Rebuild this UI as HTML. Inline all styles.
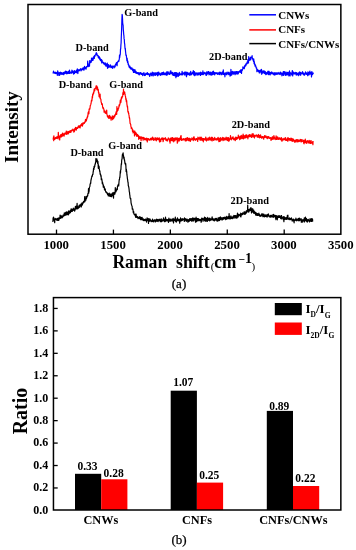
<!DOCTYPE html>
<html><head><meta charset="utf-8"><title>Raman spectra and intensity ratios</title><style>
html,body{margin:0;padding:0;background:#fff;width:356px;height:550px;overflow:hidden}
svg{display:block}
text{font-family:"Liberation Serif","Times New Roman",serif;font-weight:bold;fill:#000}
.n{font-weight:normal}
</style></head><body>
<svg width="356" height="550" viewBox="0 0 356 550">
<g fill="none" stroke-linejoin="round" stroke-width="1.2">
<polyline points="52.9,72.5 53.1,73.0 53.3,72.6 53.5,71.2 53.7,72.8 53.9,72.9 54.1,72.1 54.3,73.2 54.5,73.0 54.7,73.0 54.9,72.8 55.1,73.4 55.3,72.2 55.5,72.8 55.7,72.6 55.9,73.6 56.1,73.1 56.3,72.9 56.5,72.5 56.7,73.0 56.9,73.3 57.1,73.0 57.3,75.3 57.5,74.3 57.7,70.9 57.9,71.7 58.1,73.3 58.3,73.1 58.5,73.7 58.7,73.7 58.9,75.4 59.1,72.5 59.3,73.2 59.5,75.4 59.7,75.2 59.9,74.2 60.1,73.1 60.3,72.1 60.5,73.8 60.7,73.7 60.9,72.5 61.1,73.0 61.3,74.4 61.5,72.7 61.7,73.5 61.9,73.6 62.1,73.6 62.3,73.1 62.5,74.0 62.7,74.3 62.9,73.7 63.1,72.7 63.3,74.0 63.5,72.9 63.7,74.6 63.9,72.3 64.1,74.1 64.3,73.2 64.5,72.1 64.7,72.9 64.9,73.2 65.1,73.4 65.3,72.2 65.5,71.2 65.7,73.2 65.9,72.6 66.1,73.2 66.3,73.6 66.5,71.4 66.7,73.1 66.9,73.9 67.1,72.5 67.3,72.0 67.5,73.4 67.7,72.9 67.9,73.5 68.1,72.3 68.3,71.3 68.5,72.5 68.7,72.2 68.9,73.3 69.1,72.7 69.3,71.0 69.5,70.0 69.7,73.3 69.9,73.1 70.1,71.8 70.3,72.4 70.5,72.8 70.7,72.8 70.9,73.1 71.1,72.5 71.3,72.2 71.5,72.0 71.7,73.2 71.9,70.2 72.1,72.1 72.3,72.2 72.5,70.9 72.7,72.4 72.9,71.5 73.1,72.8 73.3,71.9 73.5,72.6 73.7,74.2 73.9,72.3 74.1,71.1 74.3,70.5 74.5,73.4 74.7,71.7 74.9,71.1 75.1,71.8 75.3,71.5 75.5,72.4 75.7,71.6 75.9,72.2 76.1,70.8 76.3,72.6 76.5,70.4 76.7,71.9 76.9,72.6 77.1,69.7 77.3,68.8 77.5,71.5 77.7,73.2 77.9,73.5 78.1,69.6 78.3,71.2 78.5,69.8 78.7,70.1 78.9,70.1 79.1,70.8 79.3,69.9 79.5,70.5 79.7,70.0 79.9,69.3 80.1,69.7 80.3,69.0 80.5,69.8 80.7,68.7 80.9,68.7 81.1,70.9 81.3,69.5 81.5,69.4 81.7,69.9 81.9,69.0 82.1,69.1 82.3,69.6 82.5,69.4 82.7,68.0 82.9,69.7 83.1,68.4 83.3,67.9 83.5,68.0 83.7,68.3 83.9,70.1 84.1,67.5 84.3,68.6 84.5,66.4 84.7,68.3 84.9,69.0 85.1,67.8 85.3,67.4 85.5,68.0 85.7,68.4 85.9,68.2 86.1,69.2 86.3,67.5 86.5,66.6 86.7,66.9 86.9,66.7 87.1,66.7 87.3,66.4 87.5,66.5 87.7,61.1 87.9,66.4 88.1,64.9 88.3,66.7 88.5,65.5 88.7,65.9 88.9,64.9 89.1,65.1 89.3,63.0 89.5,66.2 89.7,60.6 89.9,62.0 90.1,62.1 90.3,62.6 90.5,60.8 90.7,62.7 90.9,61.2 91.1,62.4 91.3,61.8 91.5,58.2 91.7,60.4 91.9,58.6 92.1,60.7 92.3,59.6 92.5,59.7 92.7,58.0 92.9,60.3 93.1,60.2 93.3,57.2 93.5,58.2 93.7,57.0 93.9,57.3 94.1,56.0 94.3,58.5 94.5,55.7 94.7,56.1 94.9,56.5 95.1,55.1 95.3,55.2 95.5,54.6 95.7,54.7 95.9,53.5 96.1,54.0 96.3,52.7 96.5,54.0 96.7,54.5 96.9,53.6 97.1,55.6 97.3,54.9 97.5,55.5 97.7,55.4 97.9,55.9 98.1,55.6 98.3,57.5 98.5,56.3 98.7,56.9 98.9,58.2 99.1,58.5 99.3,58.0 99.5,56.8 99.7,59.3 99.9,59.4 100.1,58.1 100.3,60.3 100.5,59.3 100.7,59.1 100.9,60.4 101.1,61.2 101.3,61.0 101.5,59.6 101.7,62.9 101.9,60.9 102.1,60.3 102.3,62.5 102.5,61.8 102.7,62.6 102.9,62.2 103.1,62.7 103.3,63.1 103.5,62.4 103.7,63.9 103.9,63.0 104.1,62.8 104.3,63.8 104.5,64.3 104.7,63.8 104.9,63.3 105.1,64.8 105.3,62.8 105.5,63.5 105.7,65.8 105.9,63.5 106.1,66.3 106.3,65.3 106.5,65.8 106.7,64.3 106.9,64.6 107.1,65.6 107.3,63.2 107.5,68.3 107.7,65.0 107.9,65.1 108.1,67.7 108.3,66.0 108.5,64.5 108.7,66.8 108.9,67.1 109.1,66.0 109.3,66.3 109.5,67.0 109.7,65.8 109.9,67.1 110.1,66.9 110.3,64.8 110.5,65.4 110.7,66.4 110.9,65.9 111.1,67.6 111.3,66.8 111.5,67.4 111.7,66.8 111.9,66.9 112.1,66.0 112.3,67.3 112.5,68.3 112.7,66.4 112.9,66.2 113.1,66.6 113.3,66.3 113.5,66.1 113.7,66.8 113.9,66.4 114.1,67.9 114.3,66.4 114.5,66.6 114.7,67.0 114.9,65.6 115.1,67.0 115.3,64.9 115.5,64.5 115.7,64.6 115.9,64.6 116.1,63.2 116.3,64.2 116.5,62.5 116.7,65.0 116.9,63.5 117.1,65.6 117.3,62.2 117.5,62.4 117.7,62.3 117.9,61.3 118.1,61.1 118.3,61.4 118.5,60.7 118.7,61.5 118.9,61.2 119.1,59.6 119.3,59.2 119.5,55.2 119.7,57.5 119.9,55.8 120.1,54.9 120.3,54.3 120.5,48.9 120.7,48.9 120.9,45.0 121.1,43.0 121.3,36.7 121.5,32.2 121.7,26.8 121.9,19.1 122.1,14.4 122.3,15.0 122.5,18.4 122.7,22.8 122.9,24.3 123.1,25.1 123.3,29.6 123.5,31.5 123.7,34.3 123.9,35.6 124.1,38.9 124.3,39.3 124.5,43.3 124.7,43.9 124.9,46.9 125.1,48.9 125.3,48.4 125.5,51.1 125.7,52.7 125.9,55.0 126.1,55.7 126.3,55.0 126.5,57.4 126.7,58.5 126.9,60.6 127.1,58.0 127.3,59.9 127.5,62.4 127.7,60.8 127.9,61.7 128.1,63.9 128.3,64.9 128.5,63.9 128.7,65.4 128.9,66.0 129.1,67.1 129.3,66.1 129.5,67.3 129.7,65.9 129.9,66.9 130.1,67.2 130.3,68.6 130.5,68.2 130.7,67.4 130.9,68.9 131.1,69.2 131.3,68.6 131.5,68.7 131.7,69.0 131.9,67.8 132.1,69.4 132.3,69.9 132.5,69.1 132.7,70.7 132.9,69.0 133.1,69.9 133.3,70.1 133.5,72.5 133.7,69.4 133.9,71.5 134.1,71.9 134.3,71.6 134.5,72.4 134.7,70.6 134.9,69.6 135.1,72.4 135.3,70.8 135.5,71.7 135.7,71.0 135.9,73.2 136.1,73.1 136.3,71.8 136.5,73.3 136.7,72.7 136.9,72.6 137.1,72.9 137.3,72.7 137.5,73.5 137.7,73.3 137.9,72.8 138.1,74.0 138.3,72.6 138.5,73.5 138.7,73.6 138.9,74.6 139.1,72.8 139.3,74.9 139.5,73.5 139.7,73.2 139.9,72.8 140.1,73.9 140.3,73.5 140.5,72.5 140.7,72.5 140.9,73.0 141.1,72.9 141.3,74.5 141.5,74.1 141.7,74.4 141.9,74.0 142.1,73.3 142.3,73.7 142.5,74.5 142.7,75.6 142.9,74.6 143.1,73.5 143.3,73.8 143.5,73.4 143.7,73.1 143.9,72.6 144.1,74.0 144.3,75.5 144.5,73.9 144.7,75.1 144.9,75.5 145.1,74.0 145.3,75.4 145.5,74.6 145.7,73.6 145.9,74.2 146.1,73.1 146.3,73.8 146.5,73.8 146.7,74.1 146.9,74.4 147.1,73.2 147.3,74.0 147.5,72.7 147.7,74.3 147.9,74.6 148.1,74.2 148.3,74.3 148.5,74.6 148.7,73.5 148.9,73.9 149.1,74.5 149.3,75.0 149.5,74.5 149.7,76.4 149.9,74.0 150.1,75.0 150.3,75.2 150.5,74.0 150.7,73.4 150.9,73.0 151.1,74.2 151.3,75.1 151.5,74.3 151.7,75.6 151.9,73.7 152.1,74.6 152.3,72.2 152.5,74.3 152.7,74.1 152.9,72.8 153.1,76.0 153.3,72.8 153.5,73.1 153.7,73.0 153.9,75.0 154.1,73.2 154.3,74.6 154.5,74.5 154.7,75.2 154.9,72.8 155.1,73.4 155.3,75.5 155.5,72.8 155.7,73.2 155.9,73.8 156.1,74.7 156.3,74.2 156.5,74.6 156.7,72.9 156.9,74.7 157.1,74.4 157.3,72.4 157.5,75.3 157.7,75.9 157.9,73.2 158.1,73.9 158.3,75.1 158.5,72.5 158.7,72.0 158.9,72.6 159.1,73.3 159.3,73.3 159.5,74.3 159.7,74.0 159.9,73.4 160.1,74.2 160.3,75.4 160.5,74.8 160.7,74.6 160.9,75.0 161.1,74.6 161.3,72.8 161.5,74.3 161.7,73.6 161.9,74.7 162.1,74.1 162.3,72.6 162.5,73.7 162.7,74.7 162.9,72.6 163.1,73.1 163.3,72.9 163.5,72.2 163.7,74.4 163.9,74.7 164.1,74.3 164.3,73.8 164.5,73.5 164.7,73.8 164.9,72.9 165.1,74.6 165.3,74.5 165.5,74.4 165.7,73.0 165.9,73.6 166.1,73.4 166.3,75.1 166.5,73.7 166.7,71.8 166.9,73.9 167.1,75.2 167.3,74.1 167.5,74.3 167.7,73.8 167.9,71.7 168.1,71.9 168.3,72.4 168.5,73.4 168.7,73.8 168.9,74.1 169.1,73.2 169.3,74.4 169.5,73.3 169.7,72.9 169.9,74.3 170.1,72.7 170.3,71.1 170.5,72.6 170.7,73.7 170.9,70.8 171.1,73.3 171.3,73.3 171.5,72.3 171.7,72.3 171.9,73.2 172.1,73.2 172.3,74.8 172.5,74.0 172.7,72.3 172.9,72.9 173.1,74.4 173.3,75.4 173.5,74.1 173.7,74.0 173.9,75.4 174.1,73.8 174.3,73.5 174.5,72.5 174.7,73.4 174.9,75.8 175.1,72.6 175.3,73.9 175.5,72.6 175.7,74.0 175.9,77.7 176.1,73.7 176.3,74.6 176.5,72.7 176.7,74.3 176.9,76.5 177.1,74.6 177.3,73.7 177.5,73.3 177.7,73.2 177.9,74.4 178.1,73.7 178.3,76.4 178.5,75.6 178.7,73.8 178.9,73.7 179.1,75.5 179.3,72.3 179.5,73.6 179.7,74.9 179.9,73.2 180.1,73.6 180.3,73.7 180.5,74.6 180.7,74.1 180.9,74.4 181.1,74.5 181.3,74.0 181.5,75.0 181.7,73.3 181.9,72.7 182.1,71.3 182.3,72.5 182.5,73.5 182.7,74.9 182.9,74.1 183.1,73.4 183.3,73.0 183.5,73.5 183.7,73.6 183.9,73.5 184.1,72.7 184.3,73.6 184.5,74.9 184.7,72.0 184.9,73.8 185.1,72.1 185.3,74.1 185.5,73.3 185.7,72.1 185.9,74.1 186.1,75.6 186.3,74.1 186.5,76.7 186.7,73.9 186.9,72.0 187.1,74.4 187.3,73.6 187.5,72.6 187.7,74.6 187.9,74.2 188.1,73.5 188.3,74.7 188.5,73.1 188.7,74.5 188.9,73.1 189.1,74.4 189.3,72.9 189.5,75.2 189.7,74.1 189.9,75.2 190.1,73.2 190.3,73.5 190.5,74.9 190.7,71.4 190.9,72.9 191.1,74.8 191.3,74.3 191.5,74.7 191.7,73.6 191.9,74.4 192.1,73.2 192.3,72.6 192.5,72.3 192.7,73.3 192.9,73.3 193.1,73.3 193.3,70.6 193.5,72.0 193.7,75.0 193.9,74.1 194.1,73.3 194.3,73.0 194.5,71.7 194.7,75.6 194.9,72.8 195.1,75.3 195.3,75.2 195.5,73.3 195.7,73.3 195.9,73.9 196.1,72.7 196.3,74.0 196.5,73.8 196.7,74.2 196.9,74.6 197.1,75.3 197.3,73.4 197.5,74.7 197.7,73.0 197.9,72.9 198.1,73.2 198.3,72.8 198.5,74.6 198.7,74.5 198.9,74.9 199.1,73.7 199.3,73.9 199.5,73.2 199.7,72.7 199.9,74.1 200.1,73.9 200.3,72.7 200.5,75.5 200.7,72.1 200.9,73.5 201.1,73.1 201.3,73.2 201.5,72.7 201.7,74.5 201.9,74.1 202.1,74.7 202.3,73.7 202.5,72.5 202.7,74.3 202.9,70.9 203.1,74.0 203.3,74.7 203.5,73.9 203.7,73.1 203.9,73.3 204.1,73.8 204.3,72.3 204.5,73.7 204.7,73.7 204.9,73.1 205.1,73.2 205.3,73.7 205.5,72.8 205.7,72.8 205.9,75.1 206.1,73.7 206.3,75.0 206.5,75.3 206.7,71.9 206.9,74.4 207.1,74.4 207.3,72.9 207.5,72.0 207.7,73.5 207.9,71.9 208.1,73.2 208.3,71.5 208.5,73.6 208.7,71.6 208.9,73.3 209.1,74.8 209.3,73.2 209.5,74.2 209.7,72.9 209.9,72.7 210.1,72.1 210.3,74.4 210.5,73.4 210.7,74.9 210.9,72.4 211.1,73.2 211.3,73.5 211.5,74.7 211.7,75.1 211.9,72.9 212.1,72.4 212.3,71.9 212.5,74.6 212.7,73.4 212.9,72.8 213.1,73.4 213.3,71.1 213.5,71.9 213.7,74.3 213.9,73.8 214.1,73.6 214.3,72.5 214.5,73.9 214.7,75.0 214.9,72.3 215.1,73.4 215.3,73.0 215.5,73.7 215.7,73.4 215.9,73.3 216.1,72.6 216.3,73.4 216.5,72.8 216.7,73.3 216.9,73.3 217.1,74.0 217.3,72.9 217.5,73.1 217.7,74.4 217.9,73.2 218.1,73.2 218.3,74.2 218.5,73.6 218.7,73.5 218.9,73.6 219.1,72.3 219.3,73.8 219.5,74.6 219.7,73.9 219.9,72.0 220.1,73.6 220.3,72.6 220.5,73.2 220.7,73.5 220.9,72.3 221.1,74.6 221.3,73.3 221.5,74.1 221.7,74.0 221.9,74.6 222.1,74.5 222.3,72.1 222.5,73.4 222.7,71.5 222.9,73.0 223.1,74.0 223.3,69.8 223.5,74.5 223.7,73.6 223.9,73.7 224.1,73.5 224.3,74.5 224.5,74.8 224.7,73.0 224.9,76.8 225.1,73.4 225.3,73.0 225.5,73.9 225.7,74.0 225.9,73.9 226.1,72.8 226.3,74.7 226.5,73.4 226.7,74.7 226.9,74.6 227.1,72.0 227.3,72.5 227.5,72.8 227.7,73.6 227.9,73.4 228.1,73.6 228.3,72.6 228.5,73.7 228.7,74.6 228.9,72.1 229.1,73.2 229.3,73.6 229.5,73.2 229.7,73.1 229.9,74.9 230.1,76.2 230.3,74.1 230.5,72.6 230.7,75.3 230.9,69.4 231.1,72.8 231.3,73.0 231.5,72.9 231.7,75.2 231.9,73.6 232.1,73.3 232.3,71.3 232.5,73.9 232.7,72.3 232.9,72.2 233.1,73.8 233.3,72.5 233.5,74.0 233.7,74.2 233.9,71.6 234.1,73.0 234.3,73.3 234.5,73.1 234.7,72.6 234.9,71.9 235.1,74.7 235.3,72.7 235.5,71.9 235.7,72.9 235.9,73.6 236.1,71.7 236.3,72.9 236.5,71.6 236.7,73.9 236.9,72.9 237.1,72.3 237.3,73.6 237.5,71.5 237.7,72.2 237.9,74.2 238.1,72.4 238.3,73.6 238.5,72.5 238.7,71.7 238.9,72.0 239.1,72.3 239.3,71.8 239.5,71.3 239.7,71.3 239.9,70.6 240.1,72.0 240.3,72.1 240.5,72.3 240.7,69.9 240.9,72.0 241.1,71.1 241.3,69.6 241.5,73.4 241.7,71.1 241.9,70.5 242.1,70.4 242.3,70.3 242.5,70.0 242.7,68.9 242.9,66.8 243.1,67.7 243.3,68.5 243.5,67.5 243.7,68.3 243.9,68.1 244.1,67.2 244.3,68.6 244.5,65.8 244.7,67.2 244.9,65.7 245.1,65.2 245.3,66.2 245.5,64.8 245.7,65.9 245.9,63.8 246.1,65.2 246.3,63.6 246.5,63.9 246.7,63.5 246.9,62.5 247.1,63.8 247.3,61.8 247.5,61.7 247.7,63.1 247.9,59.7 248.1,62.2 248.3,61.6 248.5,62.9 248.7,56.5 248.9,59.5 249.1,59.0 249.3,60.4 249.5,59.6 249.7,60.1 249.9,59.7 250.1,58.4 250.3,57.6 250.5,57.2 250.7,59.9 250.9,58.6 251.1,58.1 251.3,57.2 251.5,57.3 251.7,57.2 251.9,57.4 252.1,55.7 252.3,58.1 252.5,58.2 252.7,59.2 252.9,59.5 253.1,60.5 253.3,60.2 253.5,61.4 253.7,58.8 253.9,60.6 254.1,63.7 254.3,61.7 254.5,63.2 254.7,64.8 254.9,64.1 255.1,66.2 255.3,65.0 255.5,65.1 255.7,66.1 255.9,66.2 256.1,68.0 256.3,68.1 256.5,68.3 256.7,68.0 256.9,71.6 257.1,69.4 257.3,69.7 257.5,70.4 257.7,70.0 257.9,69.8 258.1,70.6 258.3,71.5 258.5,71.3 258.7,71.8 258.9,70.5 259.1,70.4 259.3,73.0 259.5,71.1 259.7,71.8 259.9,72.1 260.1,72.8 260.3,70.4 260.5,71.3 260.7,71.4 260.9,71.6 261.1,69.7 261.3,71.8 261.5,69.4 261.7,74.3 261.9,72.6 262.1,72.7 262.3,71.1 262.5,73.1 262.7,71.5 262.9,71.2 263.1,71.5 263.3,71.7 263.5,72.6 263.7,72.7 263.9,70.7 264.1,72.1 264.3,73.5 264.5,72.9 264.7,73.2 264.9,71.4 265.1,73.7 265.3,71.5 265.5,73.1 265.7,74.2 265.9,74.7 266.1,73.5 266.3,73.8 266.5,72.5 266.7,72.7 266.9,74.2 267.1,73.1 267.3,73.0 267.5,71.9 267.7,73.3 267.9,73.8 268.1,71.0 268.3,72.9 268.5,74.6 268.7,73.4 268.9,73.0 269.1,71.4 269.3,72.7 269.5,73.0 269.7,74.5 269.9,72.7 270.1,74.9 270.3,72.4 270.5,72.9 270.7,74.0 270.9,73.1 271.1,72.5 271.3,73.2 271.5,73.7 271.7,71.8 271.9,73.1 272.1,72.4 272.3,73.0 272.5,74.0 272.7,72.8 272.9,73.0 273.1,73.4 273.3,74.0 273.5,73.1 273.7,74.7 273.9,74.3 274.1,74.5 274.3,72.6 274.5,73.2 274.7,73.7 274.9,75.2 275.1,74.2 275.3,73.0 275.5,74.5 275.7,73.2 275.9,72.7 276.1,73.8 276.3,73.5 276.5,74.3 276.7,72.9 276.9,73.7 277.1,74.0 277.3,73.7 277.5,73.4 277.7,72.8 277.9,74.2 278.1,73.5 278.3,73.9 278.5,73.1 278.7,73.4 278.9,72.4 279.1,73.5 279.3,74.1 279.5,73.5 279.7,74.2 279.9,73.7 280.1,74.7 280.3,73.3 280.5,72.0 280.7,73.8 280.9,73.3 281.1,72.6 281.3,74.0 281.5,73.7 281.7,73.9 281.9,75.8 282.1,73.6 282.3,73.7 282.5,75.1 282.7,72.9 282.9,73.5 283.1,73.8 283.3,71.6 283.5,72.0 283.7,75.4 283.9,71.9 284.1,74.0 284.3,72.7 284.5,72.8 284.7,71.7 284.9,72.7 285.1,74.2 285.3,72.2 285.5,75.1 285.7,73.8 285.9,75.3 286.1,73.1 286.3,75.0 286.5,74.3 286.7,73.2 286.9,72.0 287.1,74.9 287.3,72.3 287.5,73.1 287.7,74.3 287.9,74.5 288.1,72.7 288.3,73.5 288.5,73.3 288.7,74.6 288.9,75.8 289.1,71.9 289.3,74.3 289.5,70.9 289.7,73.5 289.9,72.5 290.1,76.0 290.3,73.6 290.5,72.8 290.7,73.1 290.9,73.0 291.1,73.7 291.3,73.4 291.5,73.2 291.7,74.9 291.9,74.1 292.1,72.4 292.3,70.6 292.5,70.9 292.7,76.0 292.9,73.2 293.1,72.9 293.3,73.6 293.5,72.2 293.7,72.5 293.9,74.0 294.1,73.2 294.3,73.1 294.5,73.8 294.7,73.0 294.9,72.9 295.1,73.1 295.3,74.0 295.5,73.5 295.7,72.4 295.9,73.2 296.1,74.1 296.3,75.2 296.5,72.5 296.7,73.8 296.9,73.2 297.1,74.2 297.3,73.9 297.5,74.8 297.7,73.9 297.9,73.0 298.1,73.0 298.3,73.8 298.5,73.8 298.7,75.6 298.9,75.0 299.1,72.4 299.3,73.8 299.5,72.3 299.7,72.0 299.9,74.1 300.1,73.9 300.3,72.5 300.5,74.9 300.7,75.3 300.9,72.4 301.1,74.0 301.3,73.6 301.5,73.3 301.7,73.4 301.9,73.6 302.1,73.3 302.3,73.3 302.5,71.7 302.7,72.2 302.9,74.0 303.1,72.8 303.3,73.9 303.5,74.5 303.7,73.1 303.9,73.7 304.1,75.3 304.3,74.0 304.5,75.0 304.7,74.8 304.9,74.1 305.1,73.3 305.3,72.6 305.5,71.8 305.7,73.8 305.9,73.8 306.1,73.2 306.3,74.1 306.5,72.8 306.7,74.4 306.9,73.4 307.1,73.3 307.3,73.3 307.5,73.2 307.7,75.6 307.9,71.9 308.1,73.5 308.3,74.4 308.5,74.0 308.7,73.0 308.9,74.9 309.1,72.3 309.3,72.1 309.5,73.8 309.7,72.0 309.9,71.1 310.1,74.1 310.3,74.0 310.5,73.9 310.7,72.8 310.9,73.4 311.1,72.4 311.3,73.5 311.5,77.0 311.7,73.9 311.9,71.5 312.1,74.0 312.3,74.6 312.5,74.3 312.7,73.9 312.9,73.2 313.1,72.9 313.3,73.7 313.5,73.5" stroke="#0000ff"/>
<polyline points="52.9,139.5 53.1,138.8 53.3,138.8 53.5,136.9 53.7,140.6 53.9,135.9 54.1,138.5 54.3,139.4 54.5,138.9 54.7,138.4 54.9,139.4 55.1,138.1 55.3,138.0 55.5,137.5 55.7,138.5 55.9,138.0 56.1,137.4 56.3,137.3 56.5,137.9 56.7,136.9 56.9,138.4 57.1,137.7 57.3,137.7 57.5,137.7 57.7,136.3 57.9,137.9 58.1,138.9 58.3,132.3 58.5,135.3 58.7,135.4 58.9,137.4 59.1,136.7 59.3,137.4 59.5,137.0 59.7,140.0 59.9,136.4 60.1,135.9 60.3,136.7 60.5,134.8 60.7,135.4 60.9,135.9 61.1,137.2 61.3,134.7 61.5,134.4 61.7,134.7 61.9,136.5 62.1,134.8 62.3,136.1 62.5,133.1 62.7,135.7 62.9,135.6 63.1,133.3 63.3,134.6 63.5,135.4 63.7,134.3 63.9,135.1 64.1,136.2 64.3,134.2 64.5,133.7 64.7,133.1 64.9,134.3 65.1,133.5 65.3,133.4 65.5,133.4 65.7,134.0 65.9,132.4 66.1,131.9 66.3,131.0 66.5,134.2 66.7,133.1 66.9,134.3 67.1,132.8 67.3,132.1 67.5,133.1 67.7,132.5 67.9,131.4 68.1,131.6 68.3,133.9 68.5,132.6 68.7,132.5 68.9,131.8 69.1,131.4 69.3,132.7 69.5,131.7 69.7,131.1 69.9,131.5 70.1,130.8 70.3,131.7 70.5,132.4 70.7,130.6 70.9,132.5 71.1,130.6 71.3,131.2 71.5,130.2 71.7,130.7 71.9,130.9 72.1,130.3 72.3,130.0 72.5,129.9 72.7,129.7 72.9,129.0 73.1,130.0 73.3,130.5 73.5,130.9 73.7,130.6 73.9,132.1 74.1,130.1 74.3,129.3 74.5,131.3 74.7,128.6 74.9,130.3 75.1,128.4 75.3,129.5 75.5,127.3 75.7,129.4 75.9,128.5 76.1,127.9 76.3,130.1 76.5,129.2 76.7,128.4 76.9,127.6 77.1,128.1 77.3,128.4 77.5,128.5 77.7,128.5 77.9,127.0 78.1,127.0 78.3,126.2 78.5,126.0 78.7,126.6 78.9,126.9 79.1,127.5 79.3,126.4 79.5,125.8 79.7,126.9 79.9,125.9 80.1,128.0 80.3,126.0 80.5,126.3 80.7,124.9 80.9,124.8 81.1,125.6 81.3,124.9 81.5,125.5 81.7,123.6 81.9,125.4 82.1,123.9 82.3,126.1 82.5,124.1 82.7,125.2 82.9,122.8 83.1,124.3 83.3,122.9 83.5,123.1 83.7,123.3 83.9,122.8 84.1,123.2 84.3,123.4 84.5,123.1 84.7,122.2 84.9,122.5 85.1,121.1 85.3,121.3 85.5,119.3 85.7,121.6 85.9,120.4 86.1,120.0 86.3,120.8 86.5,120.1 86.7,119.3 86.9,117.7 87.1,118.2 87.3,117.6 87.5,115.8 87.7,116.8 87.9,115.5 88.1,112.5 88.3,113.6 88.5,111.5 88.7,112.9 88.9,113.8 89.1,109.4 89.3,108.8 89.5,108.9 89.7,109.3 89.9,108.7 90.1,107.2 90.3,105.4 90.5,105.4 90.7,104.9 90.9,103.6 91.1,103.3 91.3,101.5 91.5,100.2 91.7,100.5 91.9,100.9 92.1,98.4 92.3,96.3 92.5,97.8 92.7,94.0 92.9,95.4 93.1,93.6 93.3,94.3 93.5,92.1 93.7,93.5 93.9,92.0 94.1,89.6 94.3,88.9 94.5,89.8 94.7,90.8 94.9,89.3 95.1,88.8 95.3,88.1 95.5,88.5 95.7,87.7 95.9,87.3 96.1,85.9 96.3,87.8 96.5,88.0 96.7,85.8 96.9,89.7 97.1,86.7 97.3,87.9 97.5,87.1 97.7,89.9 97.9,90.4 98.1,89.9 98.3,89.5 98.5,92.9 98.7,92.1 98.9,93.0 99.1,96.7 99.3,95.2 99.5,96.6 99.7,96.0 99.9,97.7 100.1,94.1 100.3,98.7 100.5,98.7 100.7,99.0 100.9,99.4 101.1,102.0 101.3,102.3 101.5,103.1 101.7,104.4 101.9,103.5 102.1,103.8 102.3,103.9 102.5,105.9 102.7,107.5 102.9,107.3 103.1,108.6 103.3,107.5 103.5,108.7 103.7,108.9 103.9,109.0 104.1,112.2 104.3,110.6 104.5,110.6 104.7,111.0 104.9,112.0 105.1,111.1 105.3,113.1 105.5,111.9 105.7,113.0 105.9,112.8 106.1,113.5 106.3,113.0 106.5,113.0 106.7,110.0 106.9,114.3 107.1,114.9 107.3,115.5 107.5,117.0 107.7,116.3 107.9,115.9 108.1,117.0 108.3,116.0 108.5,118.2 108.7,117.6 108.9,116.0 109.1,118.1 109.3,118.3 109.5,115.3 109.7,117.1 109.9,117.4 110.1,116.2 110.3,116.9 110.5,117.0 110.7,118.3 110.9,118.1 111.1,120.2 111.3,117.5 111.5,118.8 111.7,117.8 111.9,117.9 112.1,116.6 112.3,115.9 112.5,116.9 112.7,119.6 112.9,118.9 113.1,118.6 113.3,117.7 113.5,116.4 113.7,118.3 113.9,117.9 114.1,116.0 114.3,116.2 114.5,115.1 114.7,117.0 114.9,115.7 115.1,114.9 115.3,115.1 115.5,114.8 115.7,113.7 115.9,112.6 116.1,112.2 116.3,111.5 116.5,113.1 116.7,114.3 116.9,106.7 117.1,111.5 117.3,111.3 117.5,109.6 117.7,110.2 117.9,108.6 118.1,110.2 118.3,108.1 118.5,108.2 118.7,108.2 118.9,106.6 119.1,104.9 119.3,105.4 119.5,106.0 119.7,104.6 119.9,104.3 120.1,102.5 120.3,100.2 120.5,102.9 120.7,101.6 120.9,102.5 121.1,99.9 121.3,98.4 121.5,97.1 121.7,98.8 121.9,97.1 122.1,97.4 122.3,96.3 122.5,96.8 122.7,95.9 122.9,92.6 123.1,93.8 123.3,94.0 123.5,89.2 123.7,94.4 123.9,93.1 124.1,92.8 124.3,91.9 124.5,92.8 124.7,92.1 124.9,94.0 125.1,94.3 125.3,95.9 125.5,96.3 125.7,97.9 125.9,99.7 126.1,98.5 126.3,101.6 126.5,100.1 126.7,101.1 126.9,104.1 127.1,105.4 127.3,106.9 127.5,106.1 127.7,108.6 127.9,112.0 128.1,111.9 128.3,111.6 128.5,113.4 128.7,113.1 128.9,114.9 129.1,115.7 129.3,117.9 129.5,117.6 129.7,118.9 129.9,121.3 130.1,123.5 130.3,123.3 130.5,124.1 130.7,124.4 130.9,126.5 131.1,126.8 131.3,128.6 131.5,128.1 131.7,127.6 131.9,128.5 132.1,128.7 132.3,128.9 132.5,131.5 132.7,131.5 132.9,129.9 133.1,133.0 133.3,131.9 133.5,131.1 133.7,132.5 133.9,132.4 134.1,132.0 134.3,131.1 134.5,135.9 134.7,134.4 134.9,131.2 135.1,134.2 135.3,134.5 135.5,133.7 135.7,134.4 135.9,132.7 136.1,133.9 136.3,134.5 136.5,136.2 136.7,133.8 136.9,135.5 137.1,135.6 137.3,136.2 137.5,135.3 137.7,134.6 137.9,135.2 138.1,135.6 138.3,136.6 138.5,135.6 138.7,139.3 138.9,136.0 139.1,136.9 139.3,136.7 139.5,136.7 139.7,138.4 139.9,136.9 140.1,138.7 140.3,138.7 140.5,136.8 140.7,138.8 140.9,137.5 141.1,140.6 141.3,137.9 141.5,137.5 141.7,136.8 141.9,137.4 142.1,138.1 142.3,137.8 142.5,137.7 142.7,138.6 142.9,138.7 143.1,140.2 143.3,137.4 143.5,138.5 143.7,138.1 143.9,137.6 144.1,137.9 144.3,138.2 144.5,139.7 144.7,138.9 144.9,138.6 145.1,139.7 145.3,139.4 145.5,139.0 145.7,139.5 145.9,138.4 146.1,139.8 146.3,139.6 146.5,138.9 146.7,138.1 146.9,140.6 147.1,139.3 147.3,142.0 147.5,138.7 147.7,140.1 147.9,138.9 148.1,139.5 148.3,140.0 148.5,138.6 148.7,139.2 148.9,139.4 149.1,139.4 149.3,139.8 149.5,140.2 149.7,140.0 149.9,139.5 150.1,139.0 150.3,138.3 150.5,138.6 150.7,138.8 150.9,139.9 151.1,138.9 151.3,138.1 151.5,139.8 151.7,138.5 151.9,138.6 152.1,139.0 152.3,139.7 152.5,137.1 152.7,138.2 152.9,137.3 153.1,138.9 153.3,138.4 153.5,138.7 153.7,140.4 153.9,138.8 154.1,139.8 154.3,139.9 154.5,138.8 154.7,139.6 154.9,138.8 155.1,137.7 155.3,138.2 155.5,140.0 155.7,138.1 155.9,138.7 156.1,138.2 156.3,140.8 156.5,139.9 156.7,139.1 156.9,138.6 157.1,137.8 157.3,139.5 157.5,139.5 157.7,138.0 157.9,139.7 158.1,139.9 158.3,138.4 158.5,138.7 158.7,138.9 158.9,139.4 159.1,139.1 159.3,137.8 159.5,141.9 159.7,139.5 159.9,140.4 160.1,140.4 160.3,139.1 160.5,139.6 160.7,141.7 160.9,140.0 161.1,139.1 161.3,138.7 161.5,139.3 161.7,138.6 161.9,138.8 162.1,137.5 162.3,139.4 162.5,138.4 162.7,138.8 162.9,139.3 163.1,141.6 163.3,141.0 163.5,139.5 163.7,138.1 163.9,139.5 164.1,138.8 164.3,139.1 164.5,138.7 164.7,138.7 164.9,138.9 165.1,138.8 165.3,137.7 165.5,138.8 165.7,139.4 165.9,140.4 166.1,139.1 166.3,139.0 166.5,139.9 166.7,139.9 166.9,140.8 167.1,139.9 167.3,139.4 167.5,140.6 167.7,140.8 167.9,139.0 168.1,139.5 168.3,137.9 168.5,139.1 168.7,138.6 168.9,139.2 169.1,139.0 169.3,139.2 169.5,139.3 169.7,141.6 169.9,139.5 170.1,143.1 170.3,138.2 170.5,140.5 170.7,140.7 170.9,139.0 171.1,139.9 171.3,138.0 171.5,138.0 171.7,139.2 171.9,140.7 172.1,137.7 172.3,138.6 172.5,140.8 172.7,137.7 172.9,139.1 173.1,139.8 173.3,139.2 173.5,139.6 173.7,141.8 173.9,138.4 174.1,139.1 174.3,139.2 174.5,138.8 174.7,138.2 174.9,140.8 175.1,139.6 175.3,137.8 175.5,138.7 175.7,139.7 175.9,139.7 176.1,138.1 176.3,139.3 176.5,139.6 176.7,139.7 176.9,139.7 177.1,137.7 177.3,143.2 177.5,139.6 177.7,141.0 177.9,141.9 178.1,139.2 178.3,138.3 178.5,140.1 178.7,139.2 178.9,138.9 179.1,138.4 179.3,140.9 179.5,139.0 179.7,138.1 179.9,138.9 180.1,138.3 180.3,139.5 180.5,139.0 180.7,135.8 180.9,139.9 181.1,135.6 181.3,140.0 181.5,140.5 181.7,139.0 181.9,138.7 182.1,139.8 182.3,140.1 182.5,139.3 182.7,139.4 182.9,139.3 183.1,139.6 183.3,139.9 183.5,138.7 183.7,138.9 183.9,139.3 184.1,139.7 184.3,139.4 184.5,139.8 184.7,139.3 184.9,138.7 185.1,138.6 185.3,140.9 185.5,140.1 185.7,138.3 185.9,138.5 186.1,141.0 186.3,140.6 186.5,139.4 186.7,140.3 186.9,137.9 187.1,139.3 187.3,139.9 187.5,137.6 187.7,138.5 187.9,140.0 188.1,140.3 188.3,138.7 188.5,139.5 188.7,140.7 188.9,140.7 189.1,138.0 189.3,140.7 189.5,139.3 189.7,140.4 189.9,139.4 190.1,138.5 190.3,141.4 190.5,138.8 190.7,139.6 190.9,139.8 191.1,139.9 191.3,139.4 191.5,139.7 191.7,139.1 191.9,137.9 192.1,139.0 192.3,139.0 192.5,139.0 192.7,139.3 192.9,138.6 193.1,140.4 193.3,140.6 193.5,137.2 193.7,139.2 193.9,138.5 194.1,136.8 194.3,139.5 194.5,138.6 194.7,138.8 194.9,138.6 195.1,140.1 195.3,140.3 195.5,139.4 195.7,139.8 195.9,139.0 196.1,139.3 196.3,138.5 196.5,139.2 196.7,138.5 196.9,139.5 197.1,139.9 197.3,139.4 197.5,140.2 197.7,141.5 197.9,137.2 198.1,139.1 198.3,138.6 198.5,138.7 198.7,137.9 198.9,139.2 199.1,138.9 199.3,138.5 199.5,138.9 199.7,138.6 199.9,137.0 200.1,140.1 200.3,138.8 200.5,138.2 200.7,140.1 200.9,138.5 201.1,137.1 201.3,139.9 201.5,137.6 201.7,138.9 201.9,139.2 202.1,140.3 202.3,140.1 202.5,139.2 202.7,138.4 202.9,138.7 203.1,140.1 203.3,141.8 203.5,139.6 203.7,138.5 203.9,140.0 204.1,138.7 204.3,138.7 204.5,138.8 204.7,139.6 204.9,139.3 205.1,140.0 205.3,140.2 205.5,139.5 205.7,137.0 205.9,137.5 206.1,139.2 206.3,139.0 206.5,141.0 206.7,139.0 206.9,138.9 207.1,139.9 207.3,140.0 207.5,138.8 207.7,139.5 207.9,138.0 208.1,138.2 208.3,140.1 208.5,137.8 208.7,139.9 208.9,139.6 209.1,139.7 209.3,139.9 209.5,139.5 209.7,137.1 209.9,138.1 210.1,139.6 210.3,139.8 210.5,138.8 210.7,138.4 210.9,138.7 211.1,140.2 211.3,137.7 211.5,137.8 211.7,139.6 211.9,137.1 212.1,141.0 212.3,138.6 212.5,137.6 212.7,138.6 212.9,138.1 213.1,139.2 213.3,139.3 213.5,140.3 213.7,139.0 213.9,139.1 214.1,138.5 214.3,139.0 214.5,139.9 214.7,137.3 214.9,139.6 215.1,138.5 215.3,139.1 215.5,139.3 215.7,139.8 215.9,139.2 216.1,138.6 216.3,139.3 216.5,139.0 216.7,138.8 216.9,140.1 217.1,139.8 217.3,139.1 217.5,139.1 217.7,137.8 217.9,138.9 218.1,137.3 218.3,139.6 218.5,138.1 218.7,140.1 218.9,141.7 219.1,141.4 219.3,140.2 219.5,139.3 219.7,138.5 219.9,138.2 220.1,141.4 220.3,140.2 220.5,140.7 220.7,137.6 220.9,138.0 221.1,138.7 221.3,140.2 221.5,139.2 221.7,139.2 221.9,140.0 222.1,138.7 222.3,138.8 222.5,138.8 222.7,137.3 222.9,139.3 223.1,140.6 223.3,139.8 223.5,137.8 223.7,138.2 223.9,139.7 224.1,139.2 224.3,140.1 224.5,138.1 224.7,139.1 224.9,138.3 225.1,139.2 225.3,138.4 225.5,139.4 225.7,139.9 225.9,139.5 226.1,137.2 226.3,139.7 226.5,139.3 226.7,137.9 226.9,138.1 227.1,138.9 227.3,140.5 227.5,138.4 227.7,137.7 227.9,139.1 228.1,139.0 228.3,141.0 228.5,137.7 228.7,141.1 228.9,140.4 229.1,141.0 229.3,140.3 229.5,138.9 229.7,139.7 229.9,138.1 230.1,138.9 230.3,137.9 230.5,135.6 230.7,138.5 230.9,138.2 231.1,139.3 231.3,139.9 231.5,138.6 231.7,138.8 231.9,138.9 232.1,137.2 232.3,137.3 232.5,138.7 232.7,138.6 232.9,137.6 233.1,136.8 233.3,138.3 233.5,138.8 233.7,139.7 233.9,139.5 234.1,139.8 234.3,138.8 234.5,139.5 234.7,138.2 234.9,138.9 235.1,139.2 235.3,140.7 235.5,138.5 235.7,137.1 235.9,139.5 236.1,137.5 236.3,138.1 236.5,137.9 236.7,137.3 236.9,139.3 237.1,138.6 237.3,137.5 237.5,138.0 237.7,137.6 237.9,138.5 238.1,137.5 238.3,135.2 238.5,137.2 238.7,137.4 238.9,138.0 239.1,136.9 239.3,137.6 239.5,138.1 239.7,139.7 239.9,138.4 240.1,136.1 240.3,137.1 240.5,137.2 240.7,137.8 240.9,138.9 241.1,138.1 241.3,135.3 241.5,137.6 241.7,137.4 241.9,137.6 242.1,138.4 242.3,136.2 242.5,138.1 242.7,135.6 242.9,137.1 243.1,134.0 243.3,139.0 243.5,136.3 243.7,135.3 243.9,137.4 244.1,136.2 244.3,138.1 244.5,136.0 244.7,135.8 244.9,137.7 245.1,136.6 245.3,137.4 245.5,135.1 245.7,137.9 245.9,135.8 246.1,137.0 246.3,135.4 246.5,134.8 246.7,137.1 246.9,136.3 247.1,137.5 247.3,136.4 247.5,136.7 247.7,136.6 247.9,138.8 248.1,135.2 248.3,137.1 248.5,135.8 248.7,136.1 248.9,135.4 249.1,136.9 249.3,134.7 249.5,134.6 249.7,135.6 249.9,134.8 250.1,136.4 250.3,136.6 250.5,135.1 250.7,136.5 250.9,135.2 251.1,135.8 251.3,135.8 251.5,137.5 251.7,135.8 251.9,135.2 252.1,133.9 252.3,136.9 252.5,134.4 252.7,135.5 252.9,135.6 253.1,133.7 253.3,135.5 253.5,136.9 253.7,136.2 253.9,135.2 254.1,136.6 254.3,136.5 254.5,137.9 254.7,135.4 254.9,135.7 255.1,136.1 255.3,136.0 255.5,136.2 255.7,136.1 255.9,135.6 256.1,134.8 256.3,135.7 256.5,135.0 256.7,135.3 256.9,135.8 257.1,136.8 257.3,137.1 257.5,135.4 257.7,136.6 257.9,137.1 258.1,136.4 258.3,134.9 258.5,134.5 258.7,137.2 258.9,137.3 259.1,136.7 259.3,135.6 259.5,137.8 259.7,137.6 259.9,136.5 260.1,136.4 260.3,134.9 260.5,137.3 260.7,135.2 260.9,137.3 261.1,137.4 261.3,136.8 261.5,138.2 261.7,136.8 261.9,137.3 262.1,137.6 262.3,137.1 262.5,136.5 262.7,138.0 262.9,137.3 263.1,136.8 263.3,136.8 263.5,137.1 263.7,139.1 263.9,137.2 264.1,136.9 264.3,136.2 264.5,136.1 264.7,135.5 264.9,137.4 265.1,137.3 265.3,136.2 265.5,135.9 265.7,137.0 265.9,136.9 266.1,136.2 266.3,137.7 266.5,137.5 266.7,137.4 266.9,138.1 267.1,136.9 267.3,138.7 267.5,136.6 267.7,138.0 267.9,138.1 268.1,137.4 268.3,137.9 268.5,136.5 268.7,136.7 268.9,137.5 269.1,137.1 269.3,138.3 269.5,137.8 269.7,138.3 269.9,138.1 270.1,138.0 270.3,137.9 270.5,137.5 270.7,137.5 270.9,139.8 271.1,140.5 271.3,137.8 271.5,138.9 271.7,138.4 271.9,139.3 272.1,138.6 272.3,136.9 272.5,137.8 272.7,136.9 272.9,139.0 273.1,139.5 273.3,137.8 273.5,138.7 273.7,137.9 273.9,135.5 274.1,137.9 274.3,136.9 274.5,137.8 274.7,138.5 274.9,139.0 275.1,139.6 275.3,138.1 275.5,138.7 275.7,138.8 275.9,139.0 276.1,135.9 276.3,137.8 276.5,139.3 276.7,137.6 276.9,138.8 277.1,139.4 277.3,136.9 277.5,138.5 277.7,138.9 277.9,138.7 278.1,137.4 278.3,139.1 278.5,138.3 278.7,139.5 278.9,139.2 279.1,138.3 279.3,139.0 279.5,138.3 279.7,138.3 279.9,137.5 280.1,138.7 280.3,139.7 280.5,139.1 280.7,139.0 280.9,138.5 281.1,138.6 281.3,139.7 281.5,137.7 281.7,141.0 281.9,139.1 282.1,141.1 282.3,140.2 282.5,138.8 282.7,139.9 282.9,139.5 283.1,139.7 283.3,140.0 283.5,138.8 283.7,138.7 283.9,138.9 284.1,138.1 284.3,139.1 284.5,139.6 284.7,139.6 284.9,139.6 285.1,139.1 285.3,140.2 285.5,137.6 285.7,139.1 285.9,139.2 286.1,140.3 286.3,140.2 286.5,140.3 286.7,139.6 286.9,140.5 287.1,138.7 287.3,139.7 287.5,137.8 287.7,141.2 287.9,141.1 288.1,139.2 288.3,139.0 288.5,137.9 288.7,138.4 288.9,139.9 289.1,139.7 289.3,138.5 289.5,139.4 289.7,138.5 289.9,140.3 290.1,140.6 290.3,139.8 290.5,139.8 290.7,140.0 290.9,138.1 291.1,140.2 291.3,140.0 291.5,140.8 291.7,138.4 291.9,140.8 292.1,139.6 292.3,140.4 292.5,141.3 292.7,138.9 292.9,139.0 293.1,141.1 293.3,139.2 293.5,139.4 293.7,140.8 293.9,140.1 294.1,141.0 294.3,141.1 294.5,140.4 294.7,141.3 294.9,142.4 295.1,140.4 295.3,141.8 295.5,141.5 295.7,140.6 295.9,140.9 296.1,139.7 296.3,140.0 296.5,140.8 296.7,140.6 296.9,141.8 297.1,139.5 297.3,140.4 297.5,140.1 297.7,140.6 297.9,141.8 298.1,139.7 298.3,141.5 298.5,140.3 298.7,140.5 298.9,141.7 299.1,140.6 299.3,141.5 299.5,141.0 299.7,140.8 299.9,140.6 300.1,139.4 300.3,140.3 300.5,141.1 300.7,141.2 300.9,139.7 301.1,142.0 301.3,141.6 301.5,139.9 301.7,140.2 301.9,141.6 302.1,139.6 302.3,140.5 302.5,141.2 302.7,141.1 302.9,141.2 303.1,141.6 303.3,140.6 303.5,140.9 303.7,143.2 303.9,140.1 304.1,143.8 304.3,141.5 304.5,140.8 304.7,142.5 304.9,141.5 305.1,142.2 305.3,139.2 305.5,142.6 305.7,142.6 305.9,140.9 306.1,142.8 306.3,141.9 306.5,142.5 306.7,143.3 306.9,141.8 307.1,140.8 307.3,141.7 307.5,140.6 307.7,141.1 307.9,141.1 308.1,141.2 308.3,142.9 308.5,142.6 308.7,141.1 308.9,142.9 309.1,140.4 309.3,141.4 309.5,141.9 309.7,143.1 309.9,142.7 310.1,140.9 310.3,143.3 310.5,142.8 310.7,143.4 310.9,141.4 311.1,140.7 311.3,142.8 311.5,143.0 311.7,142.5 311.9,143.1 312.1,142.9 312.3,142.8 312.5,141.8 312.7,141.7 312.9,144.6 313.1,141.5 313.3,142.3" stroke="#ff0000"/>
<polyline points="52.9,222.0 53.1,217.9 53.3,220.5 53.5,217.2 53.7,219.6 53.9,219.8 54.1,218.1 54.3,219.6 54.5,219.0 54.7,222.7 54.9,219.9 55.1,219.3 55.3,219.3 55.5,218.9 55.7,218.5 55.9,219.0 56.1,219.7 56.3,219.0 56.5,220.0 56.7,218.9 56.9,219.0 57.1,220.3 57.3,219.4 57.5,218.3 57.7,218.5 57.9,219.1 58.1,220.3 58.3,218.2 58.5,218.2 58.7,219.2 58.9,220.3 59.1,217.9 59.3,218.9 59.5,218.5 59.7,218.3 59.9,218.4 60.1,215.1 60.3,218.5 60.5,216.6 60.7,215.9 60.9,217.5 61.1,217.8 61.3,216.6 61.5,215.9 61.7,216.8 61.9,216.6 62.1,217.8 62.3,217.1 62.5,216.5 62.7,217.2 62.9,215.5 63.1,215.1 63.3,216.3 63.5,216.2 63.7,215.4 63.9,214.7 64.1,215.5 64.3,212.9 64.5,215.6 64.7,215.3 64.9,213.3 65.1,214.7 65.3,213.6 65.5,215.1 65.7,212.4 65.9,213.3 66.1,214.7 66.3,214.9 66.5,211.8 66.7,213.2 66.9,213.8 67.1,212.9 67.3,214.7 67.5,212.1 67.7,213.4 67.9,212.0 68.1,214.1 68.3,212.7 68.5,214.8 68.7,210.9 68.9,213.9 69.1,212.9 69.3,212.8 69.5,213.0 69.7,212.2 69.9,211.2 70.1,210.9 70.3,210.8 70.5,212.6 70.7,210.0 70.9,210.6 71.1,208.9 71.3,211.1 71.5,211.3 71.7,210.1 71.9,209.0 72.1,210.4 72.3,211.4 72.5,210.9 72.7,210.3 72.9,209.7 73.1,210.1 73.3,208.2 73.5,210.3 73.7,208.7 73.9,209.5 74.1,209.1 74.3,209.6 74.5,209.2 74.7,211.2 74.9,210.1 75.1,210.0 75.3,206.7 75.5,208.1 75.7,208.4 75.9,208.7 76.1,206.0 76.3,209.0 76.5,208.8 76.7,206.6 76.9,206.7 77.1,203.3 77.3,207.4 77.5,207.8 77.7,209.0 77.9,206.8 78.1,207.6 78.3,206.9 78.5,208.2 78.7,207.2 78.9,207.6 79.1,205.3 79.3,205.9 79.5,205.2 79.7,207.2 79.9,206.3 80.1,205.3 80.3,205.0 80.5,205.7 80.7,204.5 80.9,204.1 81.1,205.2 81.3,206.9 81.5,204.3 81.7,203.8 81.9,203.1 82.1,202.8 82.3,205.1 82.5,204.4 82.7,203.5 82.9,203.6 83.1,202.6 83.3,203.0 83.5,201.3 83.7,202.1 83.9,202.4 84.1,201.3 84.3,201.3 84.5,200.8 84.7,196.6 84.9,201.6 85.1,200.1 85.3,199.1 85.5,200.3 85.7,199.7 85.9,200.2 86.1,196.3 86.3,198.5 86.5,198.6 86.7,196.9 86.9,197.1 87.1,196.8 87.3,196.3 87.5,195.1 87.7,195.9 87.9,193.6 88.1,193.2 88.3,193.4 88.5,188.6 88.7,193.1 88.9,191.2 89.1,191.4 89.3,188.4 89.5,187.1 89.7,186.7 89.9,186.2 90.1,184.1 90.3,184.0 90.5,182.8 90.7,183.4 90.9,180.5 91.1,180.0 91.3,178.9 91.5,177.8 91.7,177.2 91.9,175.9 92.1,176.3 92.3,176.3 92.5,174.7 92.7,174.4 92.9,174.5 93.1,172.4 93.3,171.5 93.5,169.0 93.7,168.2 93.9,169.5 94.1,166.4 94.3,167.8 94.5,166.5 94.7,166.8 94.9,165.0 95.1,163.8 95.3,164.2 95.5,162.7 95.7,162.4 95.9,158.6 96.1,162.0 96.3,160.8 96.5,159.9 96.7,160.4 96.9,158.8 97.1,160.8 97.3,160.3 97.5,162.9 97.7,163.6 97.9,161.4 98.1,164.0 98.3,168.3 98.5,164.8 98.7,166.6 98.9,166.6 99.1,166.5 99.3,168.9 99.5,170.1 99.7,171.4 99.9,171.1 100.1,173.7 100.3,174.7 100.5,173.8 100.7,175.1 100.9,176.4 101.1,175.5 101.3,179.6 101.5,179.0 101.7,178.7 101.9,179.6 102.1,181.0 102.3,183.8 102.5,182.2 102.7,183.2 102.9,184.2 103.1,184.4 103.3,187.1 103.5,185.2 103.7,187.0 103.9,187.0 104.1,188.0 104.3,186.9 104.5,190.0 104.7,188.7 104.9,189.3 105.1,188.8 105.3,189.4 105.5,190.9 105.7,191.6 105.9,191.8 106.1,192.5 106.3,192.4 106.5,192.0 106.7,193.0 106.9,193.1 107.1,192.7 107.3,193.7 107.5,194.4 107.7,194.7 107.9,193.3 108.1,194.5 108.3,195.8 108.5,194.1 108.7,194.3 108.9,194.5 109.1,195.9 109.3,193.2 109.5,195.3 109.7,196.2 109.9,194.4 110.1,196.5 110.3,195.7 110.5,194.7 110.7,195.4 110.9,193.8 111.1,194.6 111.3,196.7 111.5,194.2 111.7,196.7 111.9,194.9 112.1,195.8 112.3,195.1 112.5,192.8 112.7,194.2 112.9,194.8 113.1,193.5 113.3,193.2 113.5,198.1 113.7,193.6 113.9,192.4 114.1,194.0 114.3,194.3 114.5,192.8 114.7,193.8 114.9,194.1 115.1,192.4 115.3,187.5 115.5,190.6 115.7,191.4 115.9,191.9 116.1,191.0 116.3,190.9 116.5,189.6 116.7,189.8 116.9,188.7 117.1,188.3 117.3,189.7 117.5,186.1 117.7,186.5 117.9,185.3 118.1,184.8 118.3,185.6 118.5,184.1 118.7,186.0 118.9,183.3 119.1,180.8 119.3,179.3 119.5,179.4 119.7,177.2 119.9,177.5 120.1,174.5 120.3,171.0 120.5,172.9 120.7,169.8 120.9,169.8 121.1,166.0 121.3,163.7 121.5,164.4 121.7,160.2 121.9,159.4 122.1,158.6 122.3,155.6 122.5,154.0 122.7,154.9 122.9,154.0 123.1,152.9 123.3,154.8 123.5,155.7 123.7,158.2 123.9,156.9 124.1,157.4 124.3,159.9 124.5,159.7 124.7,161.2 124.9,163.0 125.1,163.8 125.3,163.1 125.5,164.7 125.7,163.5 125.9,166.2 126.1,171.6 126.3,169.1 126.5,170.5 126.7,171.6 126.9,174.7 127.1,175.8 127.3,177.6 127.5,179.1 127.7,180.2 127.9,182.1 128.1,182.2 128.3,185.8 128.5,186.0 128.7,186.9 128.9,187.9 129.1,189.5 129.3,191.8 129.5,192.1 129.7,194.6 129.9,195.5 130.1,198.0 130.3,198.2 130.5,198.7 130.7,198.3 130.9,200.5 131.1,203.1 131.3,203.7 131.5,205.0 131.7,205.0 131.9,205.9 132.1,206.3 132.3,209.2 132.5,208.8 132.7,209.0 132.9,208.9 133.1,210.6 133.3,212.6 133.5,212.2 133.7,211.6 133.9,213.9 134.1,214.3 134.3,214.2 134.5,214.4 134.7,215.1 134.9,214.8 135.1,215.3 135.3,214.2 135.5,216.9 135.7,215.6 135.9,217.4 136.1,214.0 136.3,216.6 136.5,217.1 136.7,216.1 136.9,217.0 137.1,217.4 137.3,217.4 137.5,216.6 137.7,217.1 137.9,218.3 138.1,218.7 138.3,217.8 138.5,217.9 138.7,218.1 138.9,217.1 139.1,217.3 139.3,217.1 139.5,218.5 139.7,217.5 139.9,216.6 140.1,218.8 140.3,219.2 140.5,217.9 140.7,219.6 140.9,217.4 141.1,219.5 141.3,217.6 141.5,217.9 141.7,219.7 141.9,218.8 142.1,217.4 142.3,218.9 142.5,219.7 142.7,219.3 142.9,219.3 143.1,220.4 143.3,218.8 143.5,219.0 143.7,219.0 143.9,220.6 144.1,220.5 144.3,220.7 144.5,219.6 144.7,220.1 144.9,220.4 145.1,219.3 145.3,220.4 145.5,220.4 145.7,219.1 145.9,219.7 146.1,219.7 146.3,221.4 146.5,222.1 146.7,219.7 146.9,219.9 147.1,217.8 147.3,220.1 147.5,219.9 147.7,218.9 147.9,220.6 148.1,218.5 148.3,219.8 148.5,223.4 148.7,218.9 148.9,220.8 149.1,221.0 149.3,221.4 149.5,218.8 149.7,220.7 149.9,220.0 150.1,219.0 150.3,219.8 150.5,220.0 150.7,220.0 150.9,221.5 151.1,220.5 151.3,221.7 151.5,221.4 151.7,220.8 151.9,221.1 152.1,221.4 152.3,220.8 152.5,219.1 152.7,221.0 152.9,220.3 153.1,221.7 153.3,220.3 153.5,220.7 153.7,220.6 153.9,221.8 154.1,220.4 154.3,220.0 154.5,220.6 154.7,219.9 154.9,220.4 155.1,220.3 155.3,220.5 155.5,222.0 155.7,219.9 155.9,220.3 156.1,220.1 156.3,220.9 156.5,219.2 156.7,219.7 156.9,221.3 157.1,220.8 157.3,220.3 157.5,219.8 157.7,219.5 157.9,220.8 158.1,221.6 158.3,220.6 158.5,220.5 158.7,220.7 158.9,219.4 159.1,220.0 159.3,220.0 159.5,220.5 159.7,220.3 159.9,219.2 160.1,221.3 160.3,221.8 160.5,220.0 160.7,220.6 160.9,220.5 161.1,221.0 161.3,218.9 161.5,221.7 161.7,219.8 161.9,221.4 162.1,220.3 162.3,219.9 162.5,220.1 162.7,221.0 162.9,219.5 163.1,219.9 163.3,219.8 163.5,217.9 163.7,220.2 163.9,220.7 164.1,220.2 164.3,221.3 164.5,219.3 164.7,221.2 164.9,221.8 165.1,221.1 165.3,219.5 165.5,217.2 165.7,219.2 165.9,221.1 166.1,219.7 166.3,220.3 166.5,220.7 166.7,219.4 166.9,220.3 167.1,220.9 167.3,220.6 167.5,220.5 167.7,219.6 167.9,220.6 168.1,219.7 168.3,221.3 168.5,222.4 168.7,219.5 168.9,218.2 169.1,219.7 169.3,220.4 169.5,221.0 169.7,221.1 169.9,219.4 170.1,219.4 170.3,221.2 170.5,219.1 170.7,221.1 170.9,219.9 171.1,220.8 171.3,220.7 171.5,220.8 171.7,220.8 171.9,219.2 172.1,220.3 172.3,220.0 172.5,220.3 172.7,221.1 172.9,219.8 173.1,218.4 173.3,219.4 173.5,223.0 173.7,220.7 173.9,219.3 174.1,220.7 174.3,220.3 174.5,219.8 174.7,218.8 174.9,220.2 175.1,220.6 175.3,217.1 175.5,221.0 175.7,221.4 175.9,220.3 176.1,220.4 176.3,222.1 176.5,221.1 176.7,219.1 176.9,219.9 177.1,219.8 177.3,219.8 177.5,217.8 177.7,220.6 177.9,220.8 178.1,220.1 178.3,219.8 178.5,220.7 178.7,219.6 178.9,219.2 179.1,220.4 179.3,221.2 179.5,219.6 179.7,223.2 179.9,220.1 180.1,219.4 180.3,221.3 180.5,217.9 180.7,220.8 180.9,220.2 181.1,220.3 181.3,218.8 181.5,219.1 181.7,220.8 181.9,220.1 182.1,219.9 182.3,219.5 182.5,220.3 182.7,218.6 182.9,218.9 183.1,219.7 183.3,219.1 183.5,219.2 183.7,219.8 183.9,219.7 184.1,219.7 184.3,221.4 184.5,217.8 184.7,221.0 184.9,219.8 185.1,219.4 185.3,218.6 185.5,219.5 185.7,219.8 185.9,219.3 186.1,220.5 186.3,221.3 186.5,220.7 186.7,219.1 186.9,220.3 187.1,219.1 187.3,220.6 187.5,219.7 187.7,220.6 187.9,222.2 188.1,220.7 188.3,221.9 188.5,220.0 188.7,219.5 188.9,221.0 189.1,221.4 189.3,219.3 189.5,219.9 189.7,218.5 189.9,219.7 190.1,220.6 190.3,219.8 190.5,219.3 190.7,218.6 190.9,220.2 191.1,220.5 191.3,220.4 191.5,220.1 191.7,218.7 191.9,221.4 192.1,219.8 192.3,219.7 192.5,220.5 192.7,217.9 192.9,219.8 193.1,219.7 193.3,220.2 193.5,221.0 193.7,220.2 193.9,218.2 194.1,219.5 194.3,220.0 194.5,219.9 194.7,218.7 194.9,218.3 195.1,220.3 195.3,220.1 195.5,222.1 195.7,218.3 195.9,221.4 196.1,217.2 196.3,219.5 196.5,221.7 196.7,219.7 196.9,220.0 197.1,218.7 197.3,221.0 197.5,218.6 197.7,220.0 197.9,219.9 198.1,218.9 198.3,220.6 198.5,218.5 198.7,219.2 198.9,220.6 199.1,219.4 199.3,220.2 199.5,220.6 199.7,219.5 199.9,219.3 200.1,219.3 200.3,219.5 200.5,220.5 200.7,219.6 200.9,220.2 201.1,222.3 201.3,219.0 201.5,220.6 201.7,218.0 201.9,219.8 202.1,221.1 202.3,218.8 202.5,219.7 202.7,218.3 202.9,219.3 203.1,218.4 203.3,219.4 203.5,219.3 203.7,219.9 203.9,221.2 204.1,220.0 204.3,220.4 204.5,217.2 204.7,219.5 204.9,219.0 205.1,218.1 205.3,219.8 205.5,221.2 205.7,217.6 205.9,219.3 206.1,221.2 206.3,219.4 206.5,219.2 206.7,218.6 206.9,218.9 207.1,219.5 207.3,221.5 207.5,219.5 207.7,217.4 207.9,219.2 208.1,219.5 208.3,218.7 208.5,220.1 208.7,220.3 208.9,219.3 209.1,220.3 209.3,218.5 209.5,218.2 209.7,220.9 209.9,220.7 210.1,218.3 210.3,219.9 210.5,219.5 210.7,220.2 210.9,219.9 211.1,219.2 211.3,219.8 211.5,219.8 211.7,219.6 211.9,218.0 212.1,216.9 212.3,218.9 212.5,218.2 212.7,219.8 212.9,220.2 213.1,219.8 213.3,219.2 213.5,219.6 213.7,220.6 213.9,218.9 214.1,220.4 214.3,220.2 214.5,219.7 214.7,220.8 214.9,218.8 215.1,220.3 215.3,218.6 215.5,218.7 215.7,218.5 215.9,219.8 216.1,218.5 216.3,219.4 216.5,218.3 216.7,220.3 216.9,221.0 217.1,219.5 217.3,220.7 217.5,219.8 217.7,221.2 217.9,219.3 218.1,217.8 218.3,220.5 218.5,219.0 218.7,218.2 218.9,220.7 219.1,217.6 219.3,218.9 219.5,218.1 219.7,220.4 219.9,219.6 220.1,217.5 220.3,216.9 220.5,218.4 220.7,219.5 220.9,218.8 221.1,218.3 221.3,218.1 221.5,218.3 221.7,219.2 221.9,217.5 222.1,220.1 222.3,218.8 222.5,219.5 222.7,218.0 222.9,219.0 223.1,217.6 223.3,219.3 223.5,217.5 223.7,217.7 223.9,218.5 224.1,219.0 224.3,217.2 224.5,218.0 224.7,218.6 224.9,218.6 225.1,217.6 225.3,218.5 225.5,218.1 225.7,219.6 225.9,218.8 226.1,217.1 226.3,216.3 226.5,218.3 226.7,219.2 226.9,218.3 227.1,218.9 227.3,217.7 227.5,216.8 227.7,218.7 227.9,218.1 228.1,218.6 228.3,216.7 228.5,218.1 228.7,217.3 228.9,218.6 229.1,213.6 229.3,217.2 229.5,217.2 229.7,218.8 229.9,217.7 230.1,216.9 230.3,216.7 230.5,217.0 230.7,218.8 230.9,215.8 231.1,216.7 231.3,218.0 231.5,218.4 231.7,217.2 231.9,218.0 232.1,217.9 232.3,218.1 232.5,217.2 232.7,218.6 232.9,217.2 233.1,218.4 233.3,216.0 233.5,217.8 233.7,215.8 233.9,215.5 234.1,217.2 234.3,216.0 234.5,217.1 234.7,215.7 234.9,218.1 235.1,216.6 235.3,215.5 235.5,216.6 235.7,217.2 235.9,215.7 236.1,216.8 236.3,218.1 236.5,218.0 236.7,216.1 236.9,215.5 237.1,217.9 237.3,214.6 237.5,213.1 237.7,215.2 237.9,214.7 238.1,217.2 238.3,215.7 238.5,216.1 238.7,214.4 238.9,215.8 239.1,214.3 239.3,214.7 239.5,215.0 239.7,215.1 239.9,215.1 240.1,215.0 240.3,216.0 240.5,216.3 240.7,213.2 240.9,216.9 241.1,214.6 241.3,215.5 241.5,213.6 241.7,214.5 241.9,214.3 242.1,214.1 242.3,214.7 242.5,214.4 242.7,212.9 242.9,213.6 243.1,214.2 243.3,214.2 243.5,213.1 243.7,213.0 243.9,213.0 244.1,212.0 244.3,211.7 244.5,214.2 244.7,212.3 244.9,212.6 245.1,214.4 245.3,213.4 245.5,213.7 245.7,211.8 245.9,212.3 246.1,211.1 246.3,213.2 246.5,212.4 246.7,210.7 246.9,212.4 247.1,211.5 247.3,211.5 247.5,211.3 247.7,205.2 247.9,210.3 248.1,211.2 248.3,210.5 248.5,209.6 248.7,212.2 248.9,210.1 249.1,209.6 249.3,209.4 249.5,210.6 249.7,210.8 249.9,210.1 250.1,210.6 250.3,208.4 250.5,209.4 250.7,209.3 250.9,207.6 251.1,210.3 251.3,208.2 251.5,212.9 251.7,209.5 251.9,210.8 252.1,211.4 252.3,211.6 252.5,211.3 252.7,208.7 252.9,210.5 253.1,212.4 253.3,211.1 253.5,211.1 253.7,210.1 253.9,213.5 254.1,213.0 254.3,211.4 254.5,212.8 254.7,213.1 254.9,211.9 255.1,213.3 255.3,213.9 255.5,214.4 255.7,215.1 255.9,212.7 256.1,213.8 256.3,214.7 256.5,213.9 256.7,213.4 256.9,215.4 257.1,214.2 257.3,214.7 257.5,215.3 257.7,213.7 257.9,215.3 258.1,215.2 258.3,214.8 258.5,215.3 258.7,214.3 258.9,213.0 259.1,214.8 259.3,214.2 259.5,215.9 259.7,215.3 259.9,214.7 260.1,215.2 260.3,216.4 260.5,216.2 260.7,215.6 260.9,215.7 261.1,215.0 261.3,215.2 261.5,215.9 261.7,213.9 261.9,215.7 262.1,214.4 262.3,213.9 262.5,213.9 262.7,215.1 262.9,216.7 263.1,216.6 263.3,214.6 263.5,214.1 263.7,216.3 263.9,216.0 264.1,214.4 264.3,216.6 264.5,215.8 264.7,216.8 264.9,216.0 265.1,216.5 265.3,216.0 265.5,214.9 265.7,215.5 265.9,215.1 266.1,216.5 266.3,214.9 266.5,215.6 266.7,216.4 266.9,216.8 267.1,217.1 267.3,216.8 267.5,214.5 267.7,215.2 267.9,215.4 268.1,215.8 268.3,213.9 268.5,215.9 268.7,216.1 268.9,215.0 269.1,216.0 269.3,217.0 269.5,216.0 269.7,216.9 269.9,216.8 270.1,216.3 270.3,216.3 270.5,215.4 270.7,217.1 270.9,215.6 271.1,215.4 271.3,216.6 271.5,215.4 271.7,216.4 271.9,217.0 272.1,216.1 272.3,216.2 272.5,216.9 272.7,216.8 272.9,214.7 273.1,214.9 273.3,217.3 273.5,216.5 273.7,214.3 273.9,215.0 274.1,216.2 274.3,215.3 274.5,216.7 274.7,216.3 274.9,216.7 275.1,215.3 275.3,216.9 275.5,218.1 275.7,215.7 275.9,219.6 276.1,217.3 276.3,217.1 276.5,216.5 276.7,215.5 276.9,215.8 277.1,217.3 277.3,219.8 277.5,217.8 277.7,217.6 277.9,217.6 278.1,216.4 278.3,215.8 278.5,217.1 278.7,217.4 278.9,216.3 279.1,215.7 279.3,216.6 279.5,215.8 279.7,217.3 279.9,216.3 280.1,217.1 280.3,217.6 280.5,217.5 280.7,218.6 280.9,216.4 281.1,215.5 281.3,216.1 281.5,215.6 281.7,218.9 281.9,217.9 282.1,218.2 282.3,217.8 282.5,217.1 282.7,217.3 282.9,218.3 283.1,217.4 283.3,219.6 283.5,216.6 283.7,217.6 283.9,221.7 284.1,217.5 284.3,217.1 284.5,216.9 284.7,217.5 284.9,219.5 285.1,218.6 285.3,218.7 285.5,217.8 285.7,219.1 285.9,218.4 286.1,217.6 286.3,218.0 286.5,218.6 286.7,219.5 286.9,218.5 287.1,219.0 287.3,215.6 287.5,217.9 287.7,217.5 287.9,215.2 288.1,219.1 288.3,218.7 288.5,219.0 288.7,218.5 288.9,219.3 289.1,218.6 289.3,219.7 289.5,217.9 289.7,218.3 289.9,219.1 290.1,218.6 290.3,219.7 290.5,219.1 290.7,218.7 290.9,219.4 291.1,218.7 291.3,217.8 291.5,218.2 291.7,218.6 291.9,219.5 292.1,220.9 292.3,220.2 292.5,219.9 292.7,221.0 292.9,220.6 293.1,219.3 293.3,221.0 293.5,220.6 293.7,219.1 293.9,219.8 294.1,222.8 294.3,219.8 294.5,220.5 294.7,220.0 294.9,220.3 295.1,219.9 295.3,220.0 295.5,219.3 295.7,220.3 295.9,218.2 296.1,220.0 296.3,220.9 296.5,220.3 296.7,219.7 296.9,220.2 297.1,219.0 297.3,219.0 297.5,219.5 297.7,219.7 297.9,220.7 298.1,219.0 298.3,220.7 298.5,218.4 298.7,219.2 298.9,219.9 299.1,220.9 299.3,219.4 299.5,218.0 299.7,220.3 299.9,219.9 300.1,219.0 300.3,219.0 300.5,219.3 300.7,220.1 300.9,220.6 301.1,218.7 301.3,222.1 301.5,220.0 301.7,219.7 301.9,220.7 302.1,220.2 302.3,222.2 302.5,220.3 302.7,219.8 302.9,219.7 303.1,219.7 303.3,219.8 303.5,220.7 303.7,219.5 303.9,221.6 304.1,220.1 304.3,217.8 304.5,222.0 304.7,218.4 304.9,219.3 305.1,220.7 305.3,218.6 305.5,217.1 305.7,220.6 305.9,219.7 306.1,220.1 306.3,219.0 306.5,218.5 306.7,221.4 306.9,219.4 307.1,219.6 307.3,222.1 307.5,221.2 307.7,219.8 307.9,219.8 308.1,220.2 308.3,219.4 308.5,220.8 308.7,220.4 308.9,220.4 309.1,221.0 309.3,220.9 309.5,222.0 309.7,221.7 309.9,218.8 310.1,221.1 310.3,219.3 310.5,219.0 310.7,221.0 310.9,219.7 311.1,220.0 311.3,221.3 311.5,218.6 311.7,219.5 311.9,220.6 312.1,221.4 312.3,220.8 312.5,218.9 312.7,221.5" stroke="#000000"/>
</g>
<rect x="28.0" y="4.5" width="312.85" height="229.70" fill="none" stroke="#000" stroke-width="1.5"/>
<g stroke="#000" stroke-width="1.3"><line x1="56.50" y1="234.20" x2="56.50" y2="229.6"/><line x1="113.43" y1="234.20" x2="113.43" y2="229.6"/><line x1="170.35" y1="234.20" x2="170.35" y2="229.6"/><line x1="227.28" y1="234.20" x2="227.28" y2="229.6"/><line x1="284.20" y1="234.20" x2="284.20" y2="229.6"/></g>
<g font-size="12.8" text-anchor="middle"><text x="56.2" y="249.2">1000</text><text x="113.1" y="249.2">1500</text><text x="170.1" y="249.2">2000</text><text x="227.0" y="249.2">2500</text><text x="283.9" y="249.2">3000</text><text x="340.8" y="249.2">3500</text></g>
<g stroke-width="1.5">
<line x1="249.3" y1="14.8" x2="276" y2="14.8" stroke="#0000ff"/>
<line x1="249.3" y1="29.9" x2="276" y2="29.9" stroke="#ff0000"/>
<line x1="249.3" y1="43.6" x2="276" y2="43.6" stroke="#000"/>
</g>
<g font-size="11">
<text x="278.2" y="18.9">CNWs</text>
<text x="278.2" y="33.2">CNFs</text>
<text x="278.2" y="47.6">CNFs/CNWs</text>
</g>
<g font-size="10.3">
<text x="75.6" y="51.2">D-band</text>
<text x="124.2" y="15.8">G-band</text>
<text x="209.1" y="60.2">2D-band</text>
<text x="58.7" y="88.1">D-band</text>
<text x="109.2" y="88.2">G-band</text>
<text x="231.7" y="128">2D-band</text>
<text x="70.4" y="155.8">D-band</text>
<text x="108.3" y="149.3">G-band</text>
<text x="230.6" y="203.5">2D-band</text>
</g>
<text x="17.6" y="127.1" font-size="19" text-anchor="middle" transform="rotate(-90 17.6 127.1)">Intensity</text>
<g font-size="18">
<text x="112.4" y="268.3" textLength="54.8" lengthAdjust="spacingAndGlyphs">Raman</text>
<text x="176" y="268.3" textLength="33.7" lengthAdjust="spacingAndGlyphs">shift</text>
<text x="210.8" y="269.5" font-size="11" class="n">(</text>
<text x="214.3" y="268.3" textLength="22" lengthAdjust="spacingAndGlyphs">cm</text>
<text x="238.6" y="262.6" font-size="11.5">&#8722;</text>
<text x="244.9" y="262.7" font-size="14">1</text>
<text x="251.4" y="269.5" font-size="11" class="n">)</text>
</g>
<text x="179" y="288" font-size="13" text-anchor="middle" class="n" stroke="#000" stroke-width="0.25">(a)</text>
<rect x="75.0" y="473.8" width="26.2" height="36.2" fill="#000"/><rect x="101.2" y="479.3" width="26.2" height="30.7" fill="#ff0000"/><rect x="170.7" y="390.7" width="26.2" height="119.3" fill="#000"/><rect x="196.9" y="482.6" width="26.2" height="27.4" fill="#ff0000"/><rect x="266.8" y="410.9" width="26.2" height="99.1" fill="#000"/><rect x="293.0" y="486.0" width="26.2" height="24.0" fill="#ff0000"/>
<rect x="53.45" y="297.6" width="287.40" height="212.40" fill="none" stroke="#000" stroke-width="1.5"/>
<g stroke="#000" stroke-width="1.3"><line x1="53.45" y1="487.96" x2="57.7" y2="487.96"/><line x1="53.45" y1="465.52" x2="57.7" y2="465.52"/><line x1="53.45" y1="443.08" x2="57.7" y2="443.08"/><line x1="53.45" y1="420.64" x2="57.7" y2="420.64"/><line x1="53.45" y1="398.20" x2="57.7" y2="398.20"/><line x1="53.45" y1="375.76" x2="57.7" y2="375.76"/><line x1="53.45" y1="353.32" x2="57.7" y2="353.32"/><line x1="53.45" y1="330.88" x2="57.7" y2="330.88"/><line x1="53.45" y1="308.44" x2="57.7" y2="308.44"/></g>
<g font-size="12" text-anchor="end"><text x="48.3" y="513.7">0.0</text><text x="48.3" y="491.3">0.2</text><text x="48.3" y="468.8">0.4</text><text x="48.3" y="446.4">0.6</text><text x="48.3" y="423.9">0.8</text><text x="48.3" y="401.5">1.0</text><text x="48.3" y="379.1">1.2</text><text x="48.3" y="356.6">1.4</text><text x="48.3" y="334.2">1.6</text><text x="48.3" y="311.7">1.8</text></g>
<g font-size="11.5" text-anchor="middle"><text x="87.5" y="470.2">0.33</text><text x="113.6" y="476.6">0.28</text><text x="183.2" y="385.5">1.07</text><text x="209.3" y="478.9">0.25</text><text x="279.3" y="410.3">0.89</text><text x="305.4" y="482.4">0.22</text></g>
<g font-size="12.3" text-anchor="middle">
<text x="100.9" y="524.2">CNWs</text>
<text x="197" y="524.2">CNFs</text>
<text x="293.4" y="524.2">CNFs/CNWs</text>
</g>
<text x="27.3" y="411" font-size="20" text-anchor="middle" transform="rotate(-90 27.3 411)">Ratio</text>
<rect x="274.8" y="303" width="27" height="12.2" fill="#000"/>
<rect x="274.8" y="322.5" width="27" height="12.4" fill="#ff0000"/>
<text x="305.5" y="313.3" font-size="13">I<tspan font-size="7.5" dy="4">D</tspan><tspan dy="-4">/I</tspan><tspan font-size="7.5" dy="4.2">G</tspan></text>
<text x="305.5" y="334.1" font-size="13">I<tspan font-size="7.5" dy="4">2D</tspan><tspan dy="-4">/I</tspan><tspan font-size="7.5" dy="4.2">G</tspan></text>
<text x="179" y="543.6" font-size="13" text-anchor="middle" class="n" stroke="#000" stroke-width="0.25">(b)</text>
</svg>
</body></html>
